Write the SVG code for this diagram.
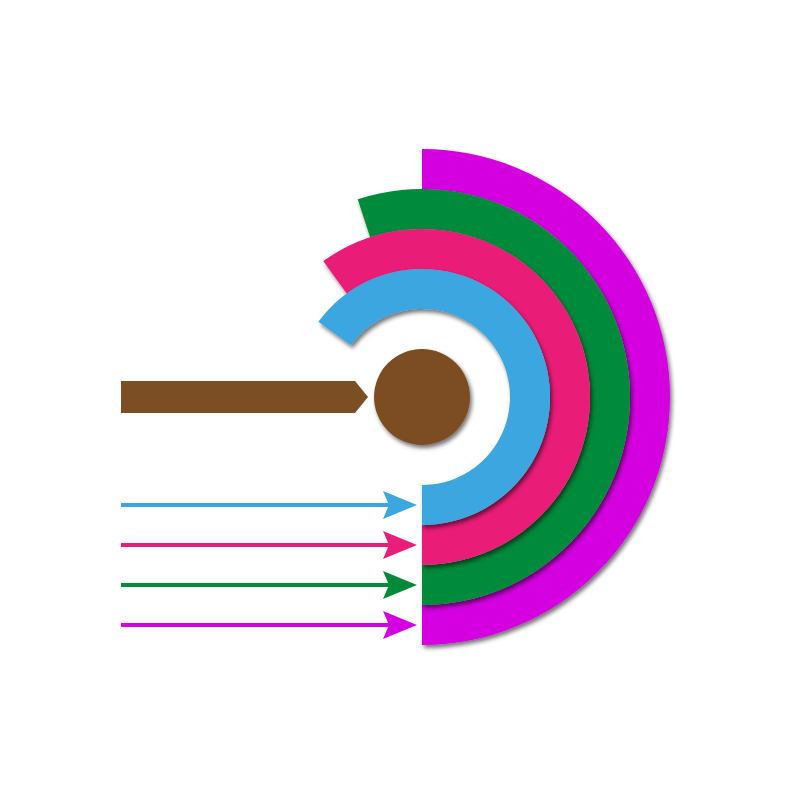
<svg xmlns="http://www.w3.org/2000/svg" width="800" height="800" viewBox="0 0 800 800">
  <defs>
    <filter id="sh" x="-20%" y="-20%" width="140%" height="140%">
      <feDropShadow dx="2" dy="3" stdDeviation="2" flood-color="#000" flood-opacity="0.55"/>
    </filter>
    <marker id="hb" markerUnits="userSpaceOnUse" viewBox="0 0 34 28" refX="6" refY="14" markerWidth="34" markerHeight="28" orient="auto"><path d="M0,0 L34,14 L0,28 L6,14 Z" fill="#3BA6DF"/></marker>
    <marker id="hp" markerUnits="userSpaceOnUse" viewBox="0 0 34 28" refX="6" refY="14" markerWidth="34" markerHeight="28" orient="auto"><path d="M0,0 L34,14 L0,28 L6,14 Z" fill="#E91E78"/></marker>
    <marker id="hg" markerUnits="userSpaceOnUse" viewBox="0 0 34 28" refX="6" refY="14" markerWidth="34" markerHeight="28" orient="auto"><path d="M0,0 L34,14 L0,28 L6,14 Z" fill="#008A3A"/></marker>
    <marker id="hm" markerUnits="userSpaceOnUse" viewBox="0 0 34 28" refX="6" refY="14" markerWidth="34" markerHeight="28" orient="auto"><path d="M0,0 L34,14 L0,28 L6,14 Z" fill="#D400E0"/></marker>
  </defs>
  <style>
    .band { filter: url(#sh); }
    .conn { stroke-width: 4; fill: none; }
  </style>
  <rect width="800" height="800" fill="#fff"/>

  <g id="band-magenta">
    <path class="band" fill="#D400E0" d="M422,149 A248,248 0 0 1 422,645 L422,605 A208,208 0 0 0 422,189 Z"/>
  </g>
  <g id="band-green">
    <path class="band" fill="#008A3A" d="M357.72,199.18 A208,208 0 1 1 422,605 L422,565 A168,168 0 1 0 370.08,237.22 Z"/>
  </g>
  <g id="band-pink">
    <path class="band" fill="#E91E78" d="M323.25,261.09 A168,168 0 1 1 422,565 L422,525 A128,128 0 1 0 346.76,293.45 Z"/>
  </g>
  <g id="band-blue">
    <path class="band" fill="#3BA6DF" d="M318.45,321.76 A128,128 0 1 1 422,525 L422,485 A88,88 0 1 0 350.81,345.27 Z"/>
  </g>

  <g id="brown-arrow">
    <path fill="#7B4E24" d="M121,381 L355,381 L368,397 L355,413 L121,413 Z"/>
  </g>
  <g id="brown-circle">
    <circle class="band" cx="422" cy="397" r="48" fill="#7B4E24"/>
  </g>

  <g id="connectors">
    <line class="conn" x1="121" y1="505" x2="389" y2="505" stroke="#3BA6DF" marker-end="url(#hb)"/>
    <line class="conn" x1="121" y1="545" x2="389" y2="545" stroke="#E91E78" marker-end="url(#hp)"/>
    <line class="conn" x1="121" y1="585" x2="389" y2="585" stroke="#008A3A" marker-end="url(#hg)"/>
    <line class="conn" x1="121" y1="625" x2="389" y2="625" stroke="#D400E0" marker-end="url(#hm)"/>
  </g>
</svg>
